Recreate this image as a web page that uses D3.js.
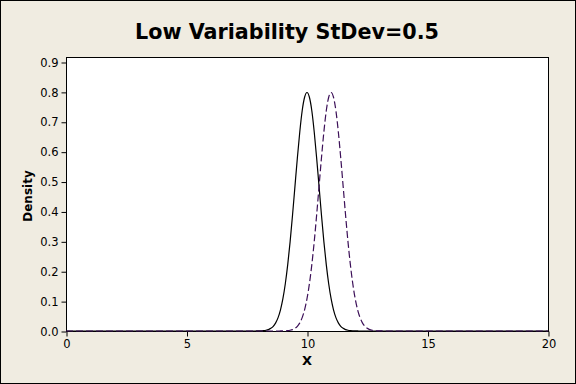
<!DOCTYPE html>
<html>
<head>
<meta charset="utf-8">
<script src="https://cdn.jsdelivr.net/npm/d3@7"></script>
<style>
  html, body { margin: 0; padding: 0; background: #f0ece1; }
  svg { display: block; }
</style>
</head>
<body>
<svg id="chart" width="576" height="384"></svg>
<script>
// density (same shape for both, sd = 0.5)
const density = [
  0, 0.00005, 0.00012, 0.00027, 0.00058, 0.00122, 0.00247, 0.00477, 0.00886,
  0.0158, 0.0272, 0.0448, 0.0709, 0.108, 0.158, 0.222, 0.299, 0.388, 0.484,
  0.579, 0.666, 0.737, 0.782, 0.798, 0.782, 0.737, 0.666, 0.579, 0.484, 0.388,
  0.299, 0.222, 0.158, 0.108, 0.0709, 0.0448, 0.0272, 0.0158, 0.00886,
  0.00477, 0.00247, 0.00122, 0.00058, 0.00027, 0.00012, 0.00005, 0
];
const xMean10 = [
  0, 7.8, 7.9, 8.0, 8.1, 8.2, 8.3, 8.4, 8.5, 8.6, 8.7, 8.8, 8.9, 9.0, 9.1,
  9.2, 9.3, 9.4, 9.5, 9.6, 9.7, 9.8, 9.9, 10.0, 10.1, 10.2, 10.3, 10.4, 10.5,
  10.6, 10.7, 10.8, 10.9, 11.0, 11.1, 11.2, 11.3, 11.4, 11.5, 11.6, 11.7,
  11.8, 11.9, 12.0, 12.1, 12.2, 20
];
const xMean11 = [
  0, 8.8, 8.9, 9.0, 9.1, 9.2, 9.3, 9.4, 9.5, 9.6, 9.7, 9.8, 9.9, 10.0, 10.1,
  10.2, 10.3, 10.4, 10.5, 10.6, 10.7, 10.8, 10.9, 11.0, 11.1, 11.2, 11.3, 11.4,
  11.5, 11.6, 11.7, 11.8, 11.9, 12.0, 12.1, 12.2, 12.3, 12.4, 12.5, 12.6,
  12.7, 12.8, 12.9, 13.0, 13.1, 13.2, 20
];
const xTicks = [0, 5, 10, 15, 20];
const yTicks = [0, 0.1, 0.2, 0.3, 0.4, 0.5, 0.6, 0.7, 0.8, 0.9];

const svg = d3.select("#chart");
const W = 576, H = 384;
const plot = { left: 66, right: 548, top: 57, bottom: 331 };

// outer frame
svg.append("rect")
  .attr("x", 0.5).attr("y", 0.5)
  .attr("width", W - 1).attr("height", H - 1)
  .attr("fill", "#f0ece1").attr("stroke", "#000");

const x = d3.scaleLinear().domain([0, 20]).range([plot.left, plot.right]);
const y = d3.scaleLinear().domain([0, 0.9]).range([plot.bottom, 62]);

// plot area
svg.append("rect")
  .attr("x", plot.left + 0.5).attr("y", plot.top + 0.5)
  .attr("width", plot.right - plot.left).attr("height", plot.bottom - plot.top)
  .attr("fill", "#fff").attr("stroke", "#000");

// title
svg.append("text")
  .attr("x", 287).attr("y", 39)
  .attr("text-anchor", "middle")
  .attr("font-family", "DejaVu Sans")
  .attr("font-weight", "bold")
  .attr("font-size", "22px")
  .attr("textLength", 304)
  .attr("lengthAdjust", "spacingAndGlyphs")
  .text("Low Variability StDev=0.5");

// axes
const xAxis = svg.append("g")
  .attr("transform", `translate(0.5,${plot.bottom + 0.5})`)
  .call(d3.axisBottom(x).tickValues(xTicks).tickSize(5).tickPadding(3).tickFormat(d3.format("d")));
const yAxis = svg.append("g")
  .attr("transform", `translate(${plot.left + 0.5},0.5)`)
  .call(d3.axisLeft(y).tickValues(yTicks).tickSize(5).tickPadding(3).tickFormat(d3.format(".1f")));

[xAxis, yAxis].forEach((g) => {
  g.select(".domain").remove();
  g.selectAll("text")
    .attr("font-family", "DejaVu Sans")
    .attr("font-size", "11.5px")
    .attr("fill", "#000");
  g.selectAll("line").attr("stroke", "#000");
});

// axis labels
svg.append("text")
  .attr("x", 307).attr("y", 365)
  .attr("text-anchor", "middle")
  .attr("font-family", "DejaVu Sans")
  .attr("font-weight", "bold")
  .attr("font-size", "13px")
  .text("X");

svg.append("text")
  .attr("transform", "translate(32,196) rotate(-90)")
  .attr("text-anchor", "middle")
  .attr("font-family", "DejaVu Sans")
  .attr("font-weight", "bold")
  .attr("font-size", "12px")
  .text("Density");

// curves
const line = d3.line()
  .x((d) => x(d[0]))
  .y((d) => y(d[1]))
  .curve(d3.curveMonotoneX);

svg.append("path")
  .datum(xMean10.map((v, i) => [v, density[i]]))
  .attr("d", line)
  .attr("fill", "none")
  .attr("stroke", "#000")
  .attr("stroke-width", 1.2);

svg.append("path")
  .datum(xMean11.map((v, i) => [v, density[i]]))
  .attr("d", line)
  .attr("fill", "none")
  .attr("stroke", "#3c1058")
  .attr("stroke-width", 1.2)
  .attr("stroke-dasharray", "7,3");
</script>
</body>
</html>
